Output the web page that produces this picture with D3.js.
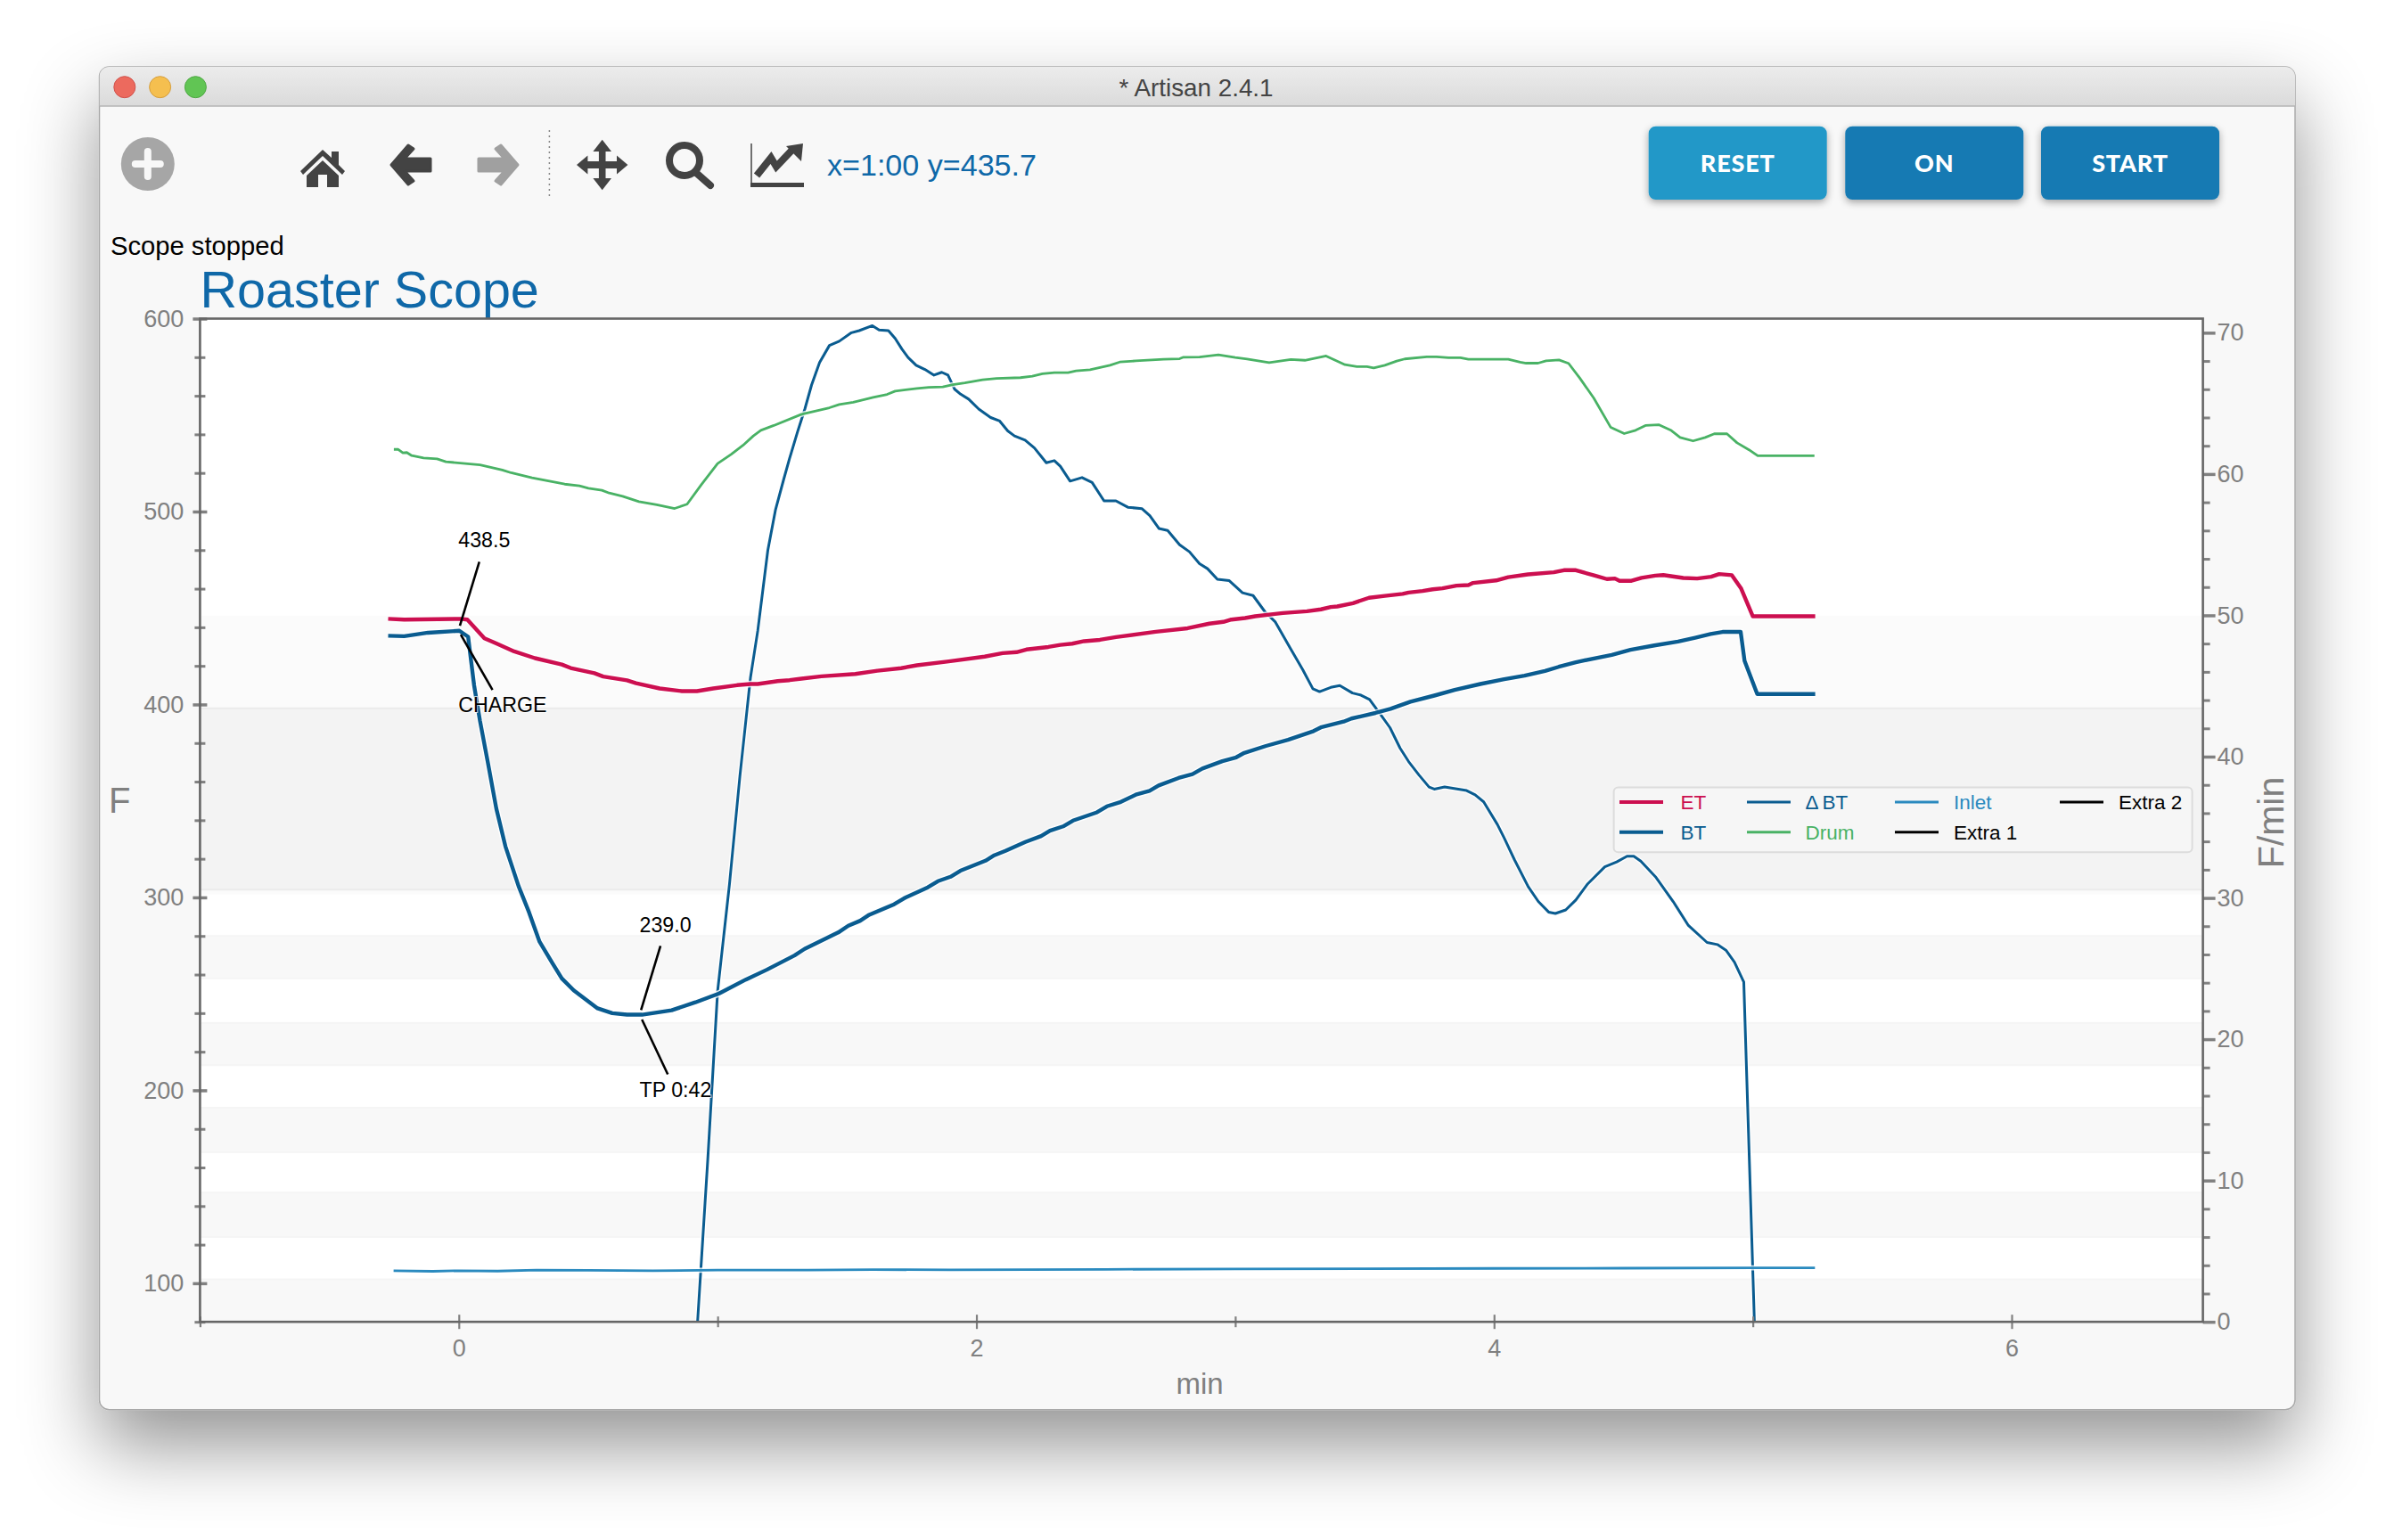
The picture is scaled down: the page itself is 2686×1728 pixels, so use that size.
<!DOCTYPE html>
<html><head><meta charset="utf-8">
<script src="https://cdn.jsdelivr.net/npm/d3@7"></script>
<style>
html,body{margin:0;padding:0;background:#fff;}
svg{display:block;}
text{font-family:"Liberation Sans",Arial,sans-serif;}
</style></head><body>
<div id="chart"></div>
<script>
// ---------- data ----------
const etTime=[-0.273,-0.211,0.0075,0.033,0.099,0.145,0.214,0.294,0.398,0.432,0.524,0.558,0.650,0.685,0.776,0.862,0.920,0.983,1.075,1.127,1.155,1.232,1.278,1.324,1.401,1.532,1.617,1.709,1.770,1.893,2.032,2.101,2.155,2.193,2.278,2.324,2.370,2.416,2.477,2.539,2.693,2.816,2.900,2.954,2.985,3.038,3.077,3.154,3.184,3.277,3.331,3.369,3.394,3.455,3.517,3.578,3.647,3.670,3.724,3.763,3.801,3.855,3.901,3.919,4.008,4.055,4.131,4.231,4.270,4.316,4.347,4.393,4.436,4.467,4.485,4.531,4.570,4.623,4.654,4.731,4.785,4.839,4.870,4.919,4.954,5.000,5.241];
const etTemp=[444.4,444.0,444.4,444,434.3,431.6,427.5,424,420.7,418.9,416.2,414.5,412.5,411,408.3,406.9,406.9,408.3,410,410.6,410.6,412.1,412.6,413.4,414.6,415.8,417.5,418.8,420.3,422.3,424.8,426.6,427.1,428.5,429.8,430.9,431.5,432.8,433.5,434.9,437.7,439.5,441.9,442.8,444,444.8,445.7,446.9,447.4,448.3,449.3,450.5,450.8,452.5,455.3,456.3,457.3,458,458.8,459.7,460.2,461.6,461.9,463,464.3,466,467.4,468.5,469.6,469.6,468.4,466.7,465,465.3,464.1,464.1,465.6,466.8,467.1,465.6,465.3,466.2,467.6,467,460.3,445.7,445.7];

const btTime=[-0.273,-0.211,-0.119,0.002,0.036,0.059,0.082,0.111,0.145,0.180,0.231,0.271,0.312,0.363,0.398,0.444,0.536,0.593,0.650,0.708,0.822,0.914,1.006,1.109,1.190,1.297,1.336,1.466,1.505,1.551,1.586,1.682,1.720,1.812,1.851,1.900,1.938,2.035,2.069,2.112,2.189,2.250,2.284,2.335,2.373,2.466,2.504,2.558,2.619,2.669,2.704,2.781,2.835,2.873,2.950,3.004,3.035,3.119,3.204,3.303,3.334,3.419,3.449,3.496,3.542,3.600,3.677,3.769,3.848,3.947,4.039,4.118,4.197,4.250,4.316,4.455,4.527,4.619,4.711,4.777,4.837,4.883,4.953,4.968,5.017,5.241];
const btTemp=[435.6,435.4,437.2,438.2,435.1,410,391.4,370.8,346,326.5,305.8,292.4,277,265.6,258,251.8,242.5,240,239.2,239.2,241.5,245.6,250.2,257.4,262.5,269.9,273.3,281.8,285.3,287.9,291,296.4,299.5,305.2,308.4,310.7,313.8,319,321.8,324.1,328.7,331.8,334.6,336.8,339.8,344.1,347.2,349.5,353.4,355.2,358,361.9,363.9,366.8,370.6,372.6,374.9,378.5,381.7,386.2,388.3,391.1,392.7,394.2,395.6,397.7,401.4,404.6,407.5,410.6,413.1,414.9,417.4,419.5,421.9,425.7,428.3,430.6,432.6,434.6,436.5,437.6,437.6,422.6,405.4,405.4];

const dbtTime=[0.9225,0.962,1.0,1.046,1.086,1.127,1.155,1.194,1.224,1.255,1.278,1.309,1.337,1.363,1.394,1.432,1.470,1.517,1.547,1.598,1.624,1.660,1.686,1.712,1.736,1.767,1.801,1.836,1.866,1.890,1.916,1.939,1.970,2.009,2.055,2.090,2.121,2.147,2.188,2.224,2.270,2.301,2.324,2.362,2.408,2.447,2.493,2.539,2.585,2.639,2.670,2.705,2.739,2.785,2.823,2.862,2.893,2.931,2.977,3.028,3.069,3.115,3.154,3.215,3.261,3.300,3.326,3.369,3.404,3.453,3.486,3.519,3.565,3.598,3.637,3.670,3.710,3.749,3.769,3.809,3.894,3.927,3.960,4.013,4.039,4.079,4.132,4.171,4.211,4.237,4.277,4.316,4.362,4.428,4.474,4.514,4.540,4.567,4.626,4.692,4.751,4.823,4.863,4.896,4.929,4.965,5.006];
const dbtRate=[0,11.5,23.4,31,38.6,45.6,48.9,54.6,57.5,59.6,61.1,63.0,64.6,66.3,67.9,69.1,69.4,70.0,70.15,70.5,70.2,70.15,69.6,68.85,68.25,67.7,67.4,67.0,67.2,67.0,66.0,65.65,65.3,64.6,64.0,63.75,63.05,62.7,62.4,61.85,60.8,60.95,60.55,59.5,59.75,59.4,58.1,58.1,57.65,57.55,57.05,56.15,56.0,55.0,54.5,53.65,53.3,52.55,52.45,51.6,51.4,50.25,49.55,47.6,46.15,44.8,44.6,44.9,45.03,44.5,44.35,44.05,42.9,42.05,40.6,39.65,38.7,37.85,37.7,37.85,37.6,37.3,36.8,35.2,34.25,32.7,30.8,29.75,29.0,28.9,29.15,29.85,31.0,32.2,32.55,32.95,32.95,32.6,31.45,29.75,28.05,26.85,26.7,26.3,25.45,24.05,0];

const drumTime=[-0.251,-0.234,-0.216,-0.201,-0.182,-0.136,-0.084,-0.050,0.082,0.168,0.202,0.283,0.409,0.466,0.501,0.553,0.581,0.633,0.696,0.765,0.834,0.882,0.937,1.000,1.052,1.098,1.138,1.167,1.217,1.324,1.432,1.470,1.524,1.601,1.655,1.686,1.770,1.816,1.870,1.909,1.955,2.024,2.078,2.170,2.216,2.255,2.301,2.354,2.385,2.439,2.516,2.554,2.616,2.723,2.785,2.800,2.862,2.935,3.000,3.046,3.131,3.215,3.269,3.351,3.424,3.470,3.509,3.535,3.578,3.624,3.655,3.740,3.778,3.824,3.870,3.901,4.055,4.101,4.124,4.170,4.201,4.251,4.288,4.331,4.385,4.451,4.503,4.547,4.585,4.636,4.685,4.719,4.769,4.816,4.851,4.900,4.939,4.985,5.019,5.238];
const drumTemp=[532.2,532.2,530.4,530.6,529,527.8,527.3,525.8,524.2,521.5,520.1,517.5,514.2,513.3,512.1,511,509.6,507.9,505.1,503.5,501.6,503.8,513.9,524.9,529.6,534.3,539.2,542.1,544.6,550.4,553.8,555.5,556.6,559.2,560.7,562.4,563.8,564.4,564.6,565.8,566.7,568.3,569,569.4,570.1,571.4,572,572,572.9,573.5,575.8,577.5,578.1,578.9,579.2,580,580.1,581.2,579.8,579,577.2,578.8,578.4,580.6,576.1,575.1,575.1,574.4,575.8,578,579.1,580.2,580.2,579.7,579.7,578.9,578.9,577.4,576.9,576.9,578.1,578.6,576.8,569.2,558.9,543.6,540.4,542.1,544.6,545,542,538.4,536.6,538.4,540.3,540.3,535.6,532,528.9,528.9];

const inletTime=[-0.252,-0.1,0,0.15,0.3,0.5,0.75,1.0,1.35,1.6,1.9,2.5,3.0,3.5,4.0,4.5,5.0,5.24];
const inletTemp=[106.5,106.2,106.5,106.3,106.8,106.7,106.5,106.8,106.8,107.1,106.9,107.2,107.4,107.5,107.7,107.8,108,108];

const tempTicks=[100,200,300,400,500,600];
const tempMinor=[80,120,140,160,180,220,240,260,280,320,340,360,380,420,440,460,480,520,540,560,580];
const rateTicks=[0,10,20,30,40,50,60,70];
const rateMinor=[2,4,6,8,12,14,16,18,22,24,26,28,32,34,36,38,42,44,46,48,52,54,56,58,62,64,66,68];
const timeTicks=[0,2,4,6];
const timeMinor=[-1,1,3,5];

const stripeLow=[80,124,168,213,258];
const stripeHigh=[102,147,191,235,280];
const lowerBand=[304,398];
const upperBand=[398,446];

const legendNames=["ET","BT","\u0394BT","Drum","Inlet","Extra 1","Extra 2"];
const chargePoint={time:0,temp:438.5,value:"438.5",label:"CHARGE"};
const turningPoint={time:0.7,temp:239.0,value:"239.0",label:"TP 0:42"};

// ---------- frame ----------
const C={et:"#cc0f50",bt:"#0a5c90",dbt:"#0a5c90",drum:"#49b265",inlet:"#2a8abf",axis:"#666666",tick:"#808080",blue:"#0f68a8"};
const W=2686,H=1728;
const svg=d3.select("#chart").append("svg").attr("width",W).attr("height",H).attr("viewBox",`0 0 ${W} ${H}`);
const defs=svg.append("defs");
const fs=defs.append("filter").attr("id","winShadow").attr("x","-15%").attr("y","-15%").attr("width","130%").attr("height","130%");
fs.append("feDropShadow").attr("dx",0).attr("dy",40).attr("stdDeviation",42).attr("flood-color","#000").attr("flood-opacity",.42);
const fb=defs.append("filter").attr("id","btnShadow").attr("x","-20%").attr("y","-20%").attr("width","140%").attr("height","150%");
fb.append("feDropShadow").attr("dx",0).attr("dy",3).attr("stdDeviation",4).attr("flood-color","#000").attr("flood-opacity",.35);
const grad=defs.append("linearGradient").attr("id","titleGrad").attr("x1",0).attr("x2",0).attr("y1",0).attr("y2",1);
grad.append("stop").attr("offset","0").attr("stop-color","#ececec");
grad.append("stop").attr("offset","1").attr("stop-color","#d4d4d4");
defs.append("clipPath").attr("id","winTop").append("rect").attr("x",111.5).attr("y",75).attr("width",2463.5).attr("height",44);

const win={x:111.5,y:75,w:2463.5,h:1506.7};
svg.append("rect").attr("x",win.x).attr("y",win.y).attr("width",win.w).attr("height",win.h).attr("rx",11)
  .attr("fill","#f8f8f8").attr("stroke","#a8a8a8").attr("stroke-width",1.5).attr("filter","url(#winShadow)");
svg.append("rect").attr("x",win.x).attr("y",win.y).attr("width",win.w).attr("height",60).attr("rx",11)
  .attr("fill","url(#titleGrad)").attr("clip-path","url(#winTop)");
svg.append("line").attr("x1",win.x).attr("x2",win.x+win.w).attr("y1",119).attr("y2",119).attr("stroke","#b4b4b4").attr("stroke-width",1.5);
[["#ec6a5e","#d0504a",139.8],["#f5bf4f","#d69e3c",179.6],["#61c554","#4ea843",219.4]].forEach(([f,s,cx])=>
  svg.append("circle").attr("cx",cx).attr("cy",97.7).attr("r",12).attr("fill",f).attr("stroke",s).attr("stroke-width",1));
svg.append("text").attr("x",1342).attr("y",108).attr("text-anchor","middle").attr("font-size",27.8).attr("fill","#444").text("* Artisan 2.4.1");

// ---------- toolbar ----------
const dark="#434343",light="#a0a0a0";
const tb=svg.append("g");
tb.append("circle").attr("cx",165.8).attr("cy",184).attr("r",30).attr("fill","#a6a6a6");
tb.append("path").attr("d","M165.8 170V198M151.8 184H179.8").attr("stroke","#f8f8f8").attr("stroke-width",8).attr("stroke-linecap","round").attr("fill","none");
tb.append("path").attr("fill",dark).attr("d","M337 192L362 168L372 177V170H380V185L387 192L384 196L362 175L340 196ZM344 197L362 180L380 197V210H367V196H357V210H344Z");
const backArrow="M458 163L439 185L458 207L464 203L454 192H483V178H454L464 167Z";
tb.append("path").attr("d",backArrow).attr("fill",dark).attr("stroke",dark).attr("stroke-width",3).attr("stroke-linejoin","round");
tb.append("path").attr("d",backArrow).attr("transform","translate(1020,0) scale(-1,1)").attr("fill",light).attr("stroke",light).attr("stroke-width",3).attr("stroke-linejoin","round");
tb.append("line").attr("x1",616.4).attr("x2",616.4).attr("y1",146).attr("y2",220).attr("stroke","#888").attr("stroke-width",1.5).attr("stroke-dasharray","2 4");
tb.append("path").attr("fill",dark).attr("d","M675.7 156.7L686 170H679.5V181H692V174.5L704.4 185L692 195.5V189H679.5V200H686L675.7 213.3L665.4 200H671.9V189H659.4V195.5L647 185L659.4 174.5V181H671.9V170H665.4Z");
tb.append("circle").attr("cx",768).attr("cy",180).attr("r",17).attr("fill","none").attr("stroke",dark).attr("stroke-width",8);
tb.append("line").attr("x1",780).attr("y1",193).attr("x2",797).attr("y2",208).attr("stroke",dark).attr("stroke-width",8).attr("stroke-linecap","round");
tb.append("path").attr("d","M843 161V207").attr("stroke",dark).attr("stroke-width",1.5);
tb.append("rect").attr("x",842).attr("y",205).attr("width",60).attr("height",5).attr("fill",dark);
tb.append("path").attr("d","M849 197L865 177L871 187L889 168").attr("stroke",dark).attr("stroke-width",8).attr("fill","none");
tb.append("path").attr("d","M882 164L901 161L899 181Z").attr("fill",dark);
svg.append("text").attr("x",928).attr("y",196.7).attr("font-size",34.1).attr("fill",C.blue).text("x=1:00 y=435.7");
svg.append("text").attr("x",124).attr("y",285.5).attr("font-size",29.2).attr("fill","#000").text("Scope stopped");

[["RESET","#2298c8",1849.7],["ON","#147ab3",2070.3],["START","#147ab3",2290]].forEach(([t,f,bx])=>{
  svg.append("rect").attr("x",bx).attr("y",141.7).attr("width",200).attr("height",82.3).attr("rx",8).attr("fill",f).attr("filter","url(#btnShadow)");
  svg.append("text").attr("x",bx+100).attr("y",193).attr("text-anchor","middle").attr("font-size",27).attr("font-weight",900)
    .attr("fill","#fff").style("font-family","Lato,sans-serif").style("letter-spacing","0.8px").text(t);
});

// ---------- scales ----------
const pLeft=224.4,pRight=2471.6,pTop=357.5,pBottom=1483.2;
const x=d3.scaleLinear().domain([-1,6.739]).range([pLeft,pRight]);
const y=d3.scaleLinear().domain([80,600]).range([pBottom,pTop]);
const yr=d3.scaleLinear().domain([0,71]).range([pBottom,pTop]);

svg.append("text").attr("x",224.5).attr("y",344.8).attr("font-size",57.5).attr("fill",C.blue).text("Roaster Scope");

// ---------- background bands ----------
const plot=svg.append("g");
plot.append("rect").attr("x",pLeft).attr("y",pTop).attr("width",pRight-pLeft).attr("height",pBottom-pTop).attr("fill","#fff");
const bandRect=(lo,hi,fill,edge)=>{
  plot.append("rect").attr("x",pLeft).attr("width",pRight-pLeft).attr("y",y(hi)).attr("height",y(lo)-y(hi)).attr("fill",fill);
  if(edge){[lo,hi].forEach(v=>plot.append("line").attr("x1",pLeft).attr("x2",pRight).attr("y1",y(v)).attr("y2",y(v)).attr("stroke",edge).attr("stroke-width",2));}
};
d3.zip(stripeLow,stripeHigh).forEach(([lo,hi])=>bandRect(lo,hi,"#f8f8f8","#f5f5f5"));
bandRect(upperBand[0],upperBand[1],"#fbfbfb",null);
bandRect(lowerBand[0]-2.5,lowerBand[0],"#fbfbfb",null);
bandRect(lowerBand[0],lowerBand[1],"#f3f3f3","#ebebeb");

// ---------- series ----------
const lineT=d3.line().x(d=>x(d[0])).y(d=>y(d[1]));
const lineR=d3.line().x(d=>x(d[0])).y(d=>yr(d[1]));
defs.append("clipPath").attr("id","plotClip").append("rect").attr("x",pLeft).attr("y",pTop).attr("width",pRight-pLeft).attr("height",pBottom-pTop);
const series=svg.append("g").attr("clip-path","url(#plotClip)");
const draw=(gen,xs,ys,color,width)=>{
  const d=gen(d3.zip(xs,ys));
  series.append("path").attr("d",d).attr("fill","none").attr("stroke","#fff").attr("stroke-width",width+3).attr("stroke-opacity",.8).attr("stroke-linejoin","round");
  series.append("path").attr("d",d).attr("fill","none").attr("stroke",color).attr("stroke-width",width).attr("stroke-linejoin","round");
};
draw(lineR,dbtTime,dbtRate,C.dbt,3);
draw(lineT,inletTime,inletTemp,C.inlet,2.8);
draw(lineT,drumTime,drumTemp,C.drum,2.8);
draw(lineT,etTime,etTemp,C.et,4.4);
draw(lineT,btTime,btTemp,C.bt,4.4);

// ---------- axes ----------
const style=g=>{g.select(".domain").remove();g.selectAll("text").attr("fill",C.tick).style("font-family",'"Liberation Sans",Arial,sans-serif').attr("font-size",27);};
const tickSpan=(g,attr,a,b,w)=>g.selectAll(".tick line").attr(attr+"1",a).attr(attr+"2",b).attr("stroke",C.tick).attr("stroke-width",w);
const gl=svg.append("g").attr("transform",`translate(${pLeft},0)`).call(d3.axisLeft(y).tickValues(tempTicks).tickSize(8).tickPadding(10)).call(style);
tickSpan(gl,"x",-8,8,3.5);
gl.selectAll("text").attr("x",-18);
const gln=svg.append("g").attr("transform",`translate(${pLeft},0)`).call(d3.axisLeft(y).tickValues(tempMinor).tickSize(6).tickFormat("")).call(style);
tickSpan(gln,"x",-6,6,3);
const gr=svg.append("g").attr("transform",`translate(${pRight},0)`).call(d3.axisRight(yr).tickValues(rateTicks).tickSize(14).tickPadding(2)).call(style);
tickSpan(gr,"x",0,14,3.5);
const grn=svg.append("g").attr("transform",`translate(${pRight},0)`).call(d3.axisRight(yr).tickValues(rateMinor).tickSize(8).tickFormat("")).call(style);
tickSpan(grn,"x",0,8,3);
const gb=svg.append("g").attr("transform",`translate(0,${pBottom})`).call(d3.axisBottom(x).tickValues(timeTicks).tickSize(8).tickPadding(14)).call(style);
tickSpan(gb,"y",-8,8,2.2);
gb.selectAll("text").attr("dy",0).attr("y",38.5);
const gbn=svg.append("g").attr("transform",`translate(0,${pBottom})`).call(d3.axisBottom(x).tickValues(timeMinor).tickSize(6).tickFormat("")).call(style);
tickSpan(gbn,"y",-6,6,2.2);
svg.append("rect").attr("x",pLeft).attr("y",pTop).attr("width",pRight-pLeft).attr("height",pBottom-pTop).attr("fill","none").attr("stroke",C.axis).attr("stroke-width",2.6);

svg.append("text").attr("x",122).attr("y",911.5).attr("font-size",40).attr("fill",C.tick).text("F");
svg.append("text").attr("x",1346).attr("y",1563.5).attr("text-anchor","middle").attr("font-size",33).attr("fill",C.tick).text("min");
svg.append("text").attr("transform","translate(2562,923) rotate(-90)").attr("text-anchor","middle").attr("font-size",41).attr("fill",C.tick).text("F/min");

// ---------- annotations ----------
const annotate=(p,upper,lower,labelDy)=>{
  const px=x(p.time),py=y(p.temp);
  const g=svg.append("g");
  g.append("line").attr("x1",px+upper[0]).attr("y1",py+upper[1]).attr("x2",px+upper[2]).attr("y2",py+upper[3]).attr("stroke","#000").attr("stroke-width",2.6);
  g.append("line").attr("x1",px+lower[0]).attr("y1",py+lower[1]).attr("x2",px+lower[2]).attr("y2",py+lower[3]).attr("stroke","#000").attr("stroke-width",2.6);
  [[p.value,-93],[p.label,labelDy]].forEach(([t,dy])=>g.append("text").attr("x",px-.5).attr("y",py+dy).attr("font-size",23.2).attr("fill","#000")
    .attr("stroke","#fff").attr("stroke-width",2).attr("stroke-opacity",.7).style("paint-order","stroke").text(t));
};
annotate(chargePoint,[23,-76.7,1.2,-5],[37.8,67,2.2,5],91.5);
annotate(turningPoint,[23,-77.5,1.2,-5.5],[31.2,66.5,2.2,5],92.5);

// ---------- legend ----------
const lg=svg.append("g");
lg.append("rect").attr("x",1810.6).attr("y",883.5).attr("width",649).attr("height",72.7).attr("rx",5).attr("fill","#f6f6f6").attr("fill-opacity",.9).attr("stroke","#dcdcdc").attr("stroke-width",2);
const legendColors=[C.et,C.bt,C.dbt,C.drum,C.inlet,"#000","#000"];
const legendWidths=[4,4,3,3,3,3,3];
const legendHandleX=[1817,1817,1960,1960,2126,2126,2311];
const legendTextX=[1885.6,1885.6,2025.4,2025.4,2192,2192,2377];
const legendRow=[900,933.7,900,933.7,900,933.7,900];
legendNames.forEach((n,i)=>{
  lg.append("line").attr("x1",legendHandleX[i]).attr("x2",legendHandleX[i]+49).attr("y1",legendRow[i]).attr("y2",legendRow[i]).attr("stroke",legendColors[i]).attr("stroke-width",legendWidths[i]);
  const t=lg.append("text").attr("x",legendTextX[i]).attr("y",legendRow[i]+8.2).attr("font-size",22.5).attr("fill",legendColors[i]);
  if(n.startsWith("\u0394")){t.append("tspan").text("\u0394");t.append("tspan").attr("dx",4).text(n.slice(1));}
  else t.text(n);
});
</script>
</body></html>
